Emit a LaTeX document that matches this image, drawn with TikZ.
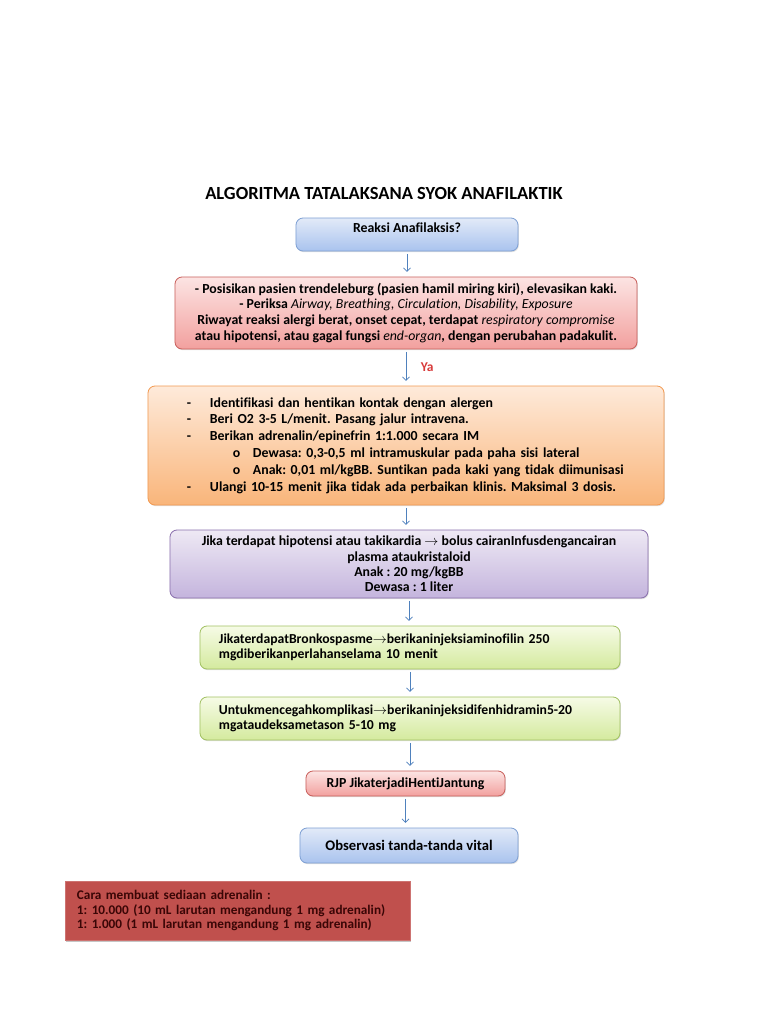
\documentclass[tikz,border=0pt]{standalone}
\usepackage{fontspec}
\setmainfont{Carlito}[Ligatures=NoCommon]
\usetikzlibrary{arrows.meta,shadows}
\frenchspacing

\definecolor{arrowblue}{HTML}{4F81BD}
\definecolor{blueline}{HTML}{7EA0D4}
\definecolor{bluetop}{HTML}{E2EAF8}
\definecolor{bluebot}{HTML}{A9C3EE}
\definecolor{pinkline}{HTML}{C9605C}
\definecolor{pinktop}{HTML}{FCE4E3}
\definecolor{pinkbot}{HTML}{F2A09E}
\definecolor{orangeline}{HTML}{F29A52}
\definecolor{orangetop}{HTML}{FEEADA}
\definecolor{orangebot}{HTML}{F9B57A}
\definecolor{purpleline}{HTML}{8A70AD}
\definecolor{purpletop}{HTML}{EEE9F4}
\definecolor{purplebot}{HTML}{C4B4DD}
\definecolor{greenline}{HTML}{A2C163}
\definecolor{greentop}{HTML}{F6FBE6}
\definecolor{greenbot}{HTML}{D4EA9E}
\definecolor{notefill}{HTML}{C0504D}
\definecolor{notetext}{HTML}{3A0606}
\definecolor{yared}{HTML}{D83B3B}

\begin{document}
\begin{tikzpicture}[x=0.03cm,y=-0.03cm]
     % Define styles
     \tikzstyle{stepbox} = [rounded corners=6pt, line width=0.7pt, inner sep=0pt,
          font=\bfseries\fontsize{11.8}{13.6}\selectfont, align=center,
          drop shadow={opacity=0.25, shadow xshift=0.7pt, shadow yshift=-1pt}]
     \tikzstyle{bluebox} = [stepbox, draw=blueline, top color=bluetop, bottom color=bluebot]
     \tikzstyle{pinkbox} = [stepbox, draw=pinkline, top color=pinktop, bottom color=pinkbot]
     \tikzstyle{orangebox} = [stepbox, draw=orangeline, top color=orangetop, bottom color=orangebot]
     \tikzstyle{purplebox} = [stepbox, draw=purpleline, top color=purpletop, bottom color=purplebot]
     \tikzstyle{greenbox} = [stepbox, draw=greenline, top color=greentop, bottom color=greenbot]
     \tikzstyle{flow} = [draw=arrowblue, line width=0.6pt, -{Straight Barb[length=3pt,width=6pt]},
          shorten <=2pt, shorten >=4pt]

     % Page
     \useasboundingbox[fill=white] (0,0) rectangle (768,1024);

     % Title
     \node[font=\bfseries\fontsize{15.8}{17}\selectfont] (title) at (384,193) {ALGORITMA TATALAKSANA SYOK ANAFILAKTIK};

     % Reaksi
     \node[bluebox, minimum width=6.66cm, minimum height=0.99cm, text depth=0.42cm] (reaksi) at (407,234.5) {Reaksi Anafilaksis?};

     % Posisikan / Periksa
     \node[pinkbox, minimum width=13.86cm, minimum height=2.16cm] (periksa) at (406,313)
          {- Posisikan pasien trendeleburg (pasien hamil miring kiri), elevasikan kaki.\\
           - Periksa \textit{\mdseries Airway, Breathing, Circulation, Disability, Exposure}\\
           Riwayat reaksi alergi berat, onset cepat, terdapat \textit{\mdseries respiratory compromise}\\
           atau hipotensi, atau gagal fungsi \textit{\mdseries end-organ}, dengan perubahan padakulit.};

     % Tindakan awal
     \newcommand{\itm}[1]{\makebox[0.69cm][l]{-}#1}
     \newcommand{\subitm}[1]{\hspace*{1.38cm}\makebox[0.6cm][l]{o}#1}
     \node[orangebox, minimum width=15.48cm, minimum height=3.57cm, text width=13.14cm, align=left,
          font=\bfseries\fontsize{11.8}{14.4}\selectfont] (tindakan) at (406,445.5)
          {\itm{Identifikasi dan hentikan kontak dengan alergen}\\
           \itm{Beri O2 3-5 L/menit. Pasang jalur intravena.}\\
           \itm{Berikan adrenalin/epinefrin 1:1.000 secara IM}\\
           \subitm{Dewasa: 0,3-0,5 ml intramuskular pada paha sisi lateral}\\
           \subitm{Anak: 0,01 ml/kgBB. Suntikan pada kaki yang tidak diimunisasi}\\
           \itm{Ulangi 10-15 menit jika tidak ada perbaikan klinis. Maksimal 3 dosis.}};

     % Cairan
     \node[purplebox, minimum width=14.34cm, minimum height=2.04cm,
          font=\bfseries\fontsize{11.8}{13}\selectfont] (cairan) at (409,564)
          {Jika terdapat hipotensi atau takikardia $\rightarrow$ bolus cairanInfusdengancairan\\
           plasma ataukristaloid\\
           Anak : 20 mg/kgBB\\
           Dewasa : 1 liter};

     % Bronkospasme
     \node[greenbox, minimum width=12.6cm, minimum height=1.29cm, text width=11.46cm, align=left,
          font=\bfseries\fontsize{11.7}{13}\selectfont] (bronko) at (410,647.5)
          {JikaterdapatBronkospasme$\rightarrow$berikaninjeksiaminofilin 250\\
           mgdiberikanperlahanselama 10 menit};

     % Komplikasi
     \node[greenbox, minimum width=12.6cm, minimum height=1.29cm, text width=11.46cm, align=left,
          font=\bfseries\fontsize{11.7}{13}\selectfont] (komplikasi) at (410,718.5)
          {Untukmencegahkomplikasi$\rightarrow$berikaninjeksidifenhidramin5-20\\
           mgataudeksametason 5-10 mg};

     % RJP
     \node[pinkbox, minimum width=5.97cm, minimum height=0.75cm] (rjp) at (405.5,783.5) {RJP JikaterjadiHentiJantung};

     % Observasi
     \node[bluebox, minimum width=6.54cm, minimum height=1.05cm,
          font=\bfseries\fontsize{12.5}{14}\selectfont] (observasi) at (409,845.5) {Observasi tanda-tanda vital};

     % Arrows
     \draw[flow] (reaksi.south) -- (reaksi.south |- periksa.north);
     \draw[flow] (periksa.south) -- (periksa.south |- tindakan.north)
          node[midway, right=9pt, text=yared, font=\bfseries\fontsize{11.5}{12}\selectfont] (ya) {Ya};
     \draw[flow] (tindakan.south) -- (tindakan.south |- cairan.north);
     \draw[flow] (cairan.south) -- (cairan.south |- bronko.north);
     \draw[flow] (bronko.south) -- (bronko.south |- komplikasi.north);
     \draw[flow] (komplikasi.south) -- (komplikasi.south |- rjp.north);
     \draw[flow] (rjp.south) -- (rjp.south |- observasi.north);

     % Sediaan adrenalin
     \node[fill=notefill, draw=notefill!80!white, line width=0.5pt, text=notetext,
          minimum width=10.35cm, minimum height=1.77cm, text width=9.63cm, align=left, inner xsep=0.36cm,
          font=\bfseries\fontsize{11.3}{12.6}\selectfont,
          drop shadow={opacity=0.45, shadow xshift=1.2pt, shadow yshift=-1.4pt}] (sediaan) at (237.5,910.5)
          {Cara membuat sediaan adrenalin :\\
           1: 10.000 (10 mL larutan mengandung 1 mg adrenalin)\\
           1: 1.000 (1 mL larutan mengandung 1 mg adrenalin)};

\end{tikzpicture}
\end{document}
